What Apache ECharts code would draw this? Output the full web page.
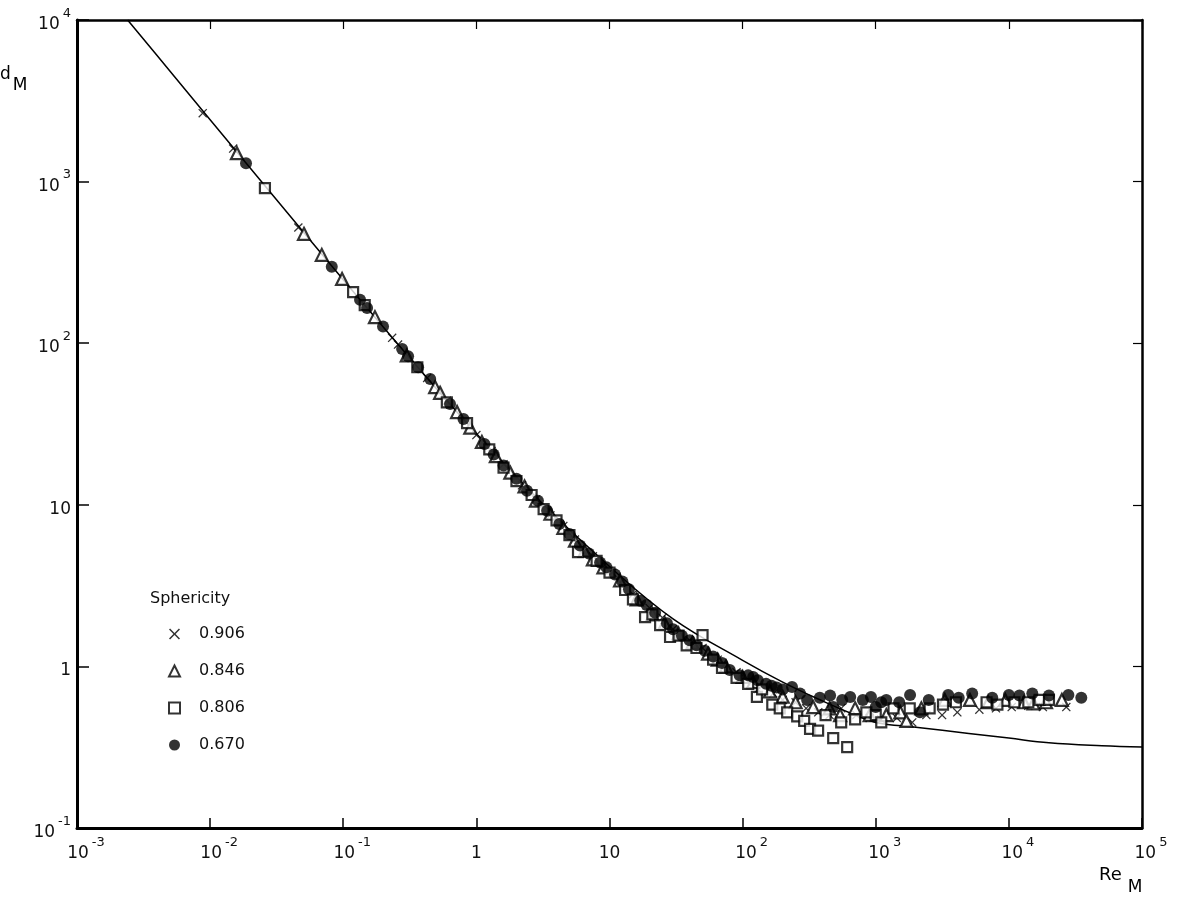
<!DOCTYPE html>
<html>
<head>
<meta charset="utf-8">
<script src="https://cdn.jsdelivr.net/npm/echarts@6/dist/echarts.min.js"></script>
<style>
html,body{margin:0;padding:0;background:#fff;}
#chart{width:1188px;height:899px;}
</style>
</head>
<body>
<div id="chart"></div>
<script>
// ---- data ----
const xTickLabels = ['10^-3','10^-2','10^-1','1','10','10^2','10^3','10^4','10^5'];
const yTickLabels = ['10^-1','1','10','10^2','10^3','10^4'];
const legendTitle = 'Sphericity';
const seriesNames = ['0.906','0.846','0.806','0.670'];

// fitted drag curve (Re_M, d_M)
const curveRe = [0.0024,0.005,0.01,0.03,0.1,0.3,1,3,10,30,100,200,400,700,1000,2000,5000,10000,20000,50000,100000];
const curveCd = [10000,4819,2415,811,247,85.2,27.6,10.55,4.15,1.97,1.09,0.80,0.61,0.50,0.45,0.42,0.385,0.36,0.337,0.323,0.317];

// sphericity 0.906 (x)
const sph906 = [[0.0088,2650],[0.0149,1600],[0.046,520],[0.233,108],[0.258,98],[0.427,61],[0.6,44],[1.0,27],[1.3,21.5],[1.6,17.8],[2.2,13.2],[2.8,10.8],[3.6,8.6],[4.5,7.4],[5.5,6.1],[7.5,4.8],[10.5,3.8],[12,3.3],[15,2.8],[20,2.3],[25,2.0],[30,1.7],[40,1.45],[50,1.3],[65,1.1],[90,0.92],[115,0.78],[130,0.72],[170,0.68],[200,0.62],[250,0.6],[300,0.55],[370,0.52],[450,0.5],[550,0.55],[715,0.5],[900,0.48],[1100,0.47],[1440,0.48],[1880,0.45],[2400,0.5],[3150,0.50],[4100,0.52],[6000,0.54],[8000,0.55],[10500,0.56],[14000,0.57],[18000,0.56],[27000,0.56]];
// sphericity 0.846 (triangle)
const sph846 = [[0.0159,1500],[0.0507,475],[0.069,352],[0.098,250],[0.173,145],[0.3,84],[0.49,53.5],[0.534,49.3],[0.716,37.5],[0.9,30],[1.1,24.5],[1.4,20],[1.8,15.8],[2.3,13],[2.8,10.6],[3.6,8.8],[4.5,7.2],[5.5,6.0],[6.5,5.2],[7.5,4.6],[9,4.1],[12,3.4],[16,2.6],[21,2.1],[26,1.85],[33,1.6],[42,1.4],[55,1.2],[65,1.1],[75,1.0],[100,0.86],[120,0.8],[160,0.7],[200,0.65],[250,0.6],[339,0.56],[450,0.55],[540,0.50],[700,0.55],[900,0.5],[1200,0.5],[1530,0.52],[1700,0.46],[2200,0.55],[3300,0.62],[5100,0.62],[7000,0.6],[9400,0.62],[13000,0.60],[15300,0.59],[19000,0.6],[25000,0.62]];
// sphericity 0.806 (square)
const sph806 = [[0.0258,910],[0.1186,207],[0.145,172],[0.36,71],[0.6,43],[0.851,32],[1.25,22],[1.6,17],[2.0,14.0],[2.6,11.5],[3.2,9.4],[4,8.0],[5,6.5],[5.8,5.1],[8,4.5],[10,3.8],[13.1,2.97],[15,2.6],[18.5,2.02],[21,2.1],[24,1.8],[28.5,1.52],[33,1.55],[38,1.35],[45,1.3],[50,1.56],[60,1.1],[70,0.98],[90,0.85],[110,0.78],[128,0.647],[140,0.72],[167,0.58],[190,0.55],[216,0.52],[257,0.49],[290,0.46],[321,0.41],[369,0.40],[420,0.5],[479,0.36],[550,0.45],[610,0.317],[700,0.47],[850,0.52],[1000,0.5],[1100,0.45],[1360,0.55],[1800,0.55],[2540,0.55],[3200,0.58],[4000,0.60],[6800,0.60],[8200,0.58],[11000,0.6],[14000,0.6],[17000,0.62],[20000,0.62]];
// sphericity 0.670 (filled circle)
const sph670 = [[0.0186,1300],[0.082,297],[0.1337,186],[0.151,165],[0.199,127],[0.277,92],[0.307,83],[0.365,71],[0.45,60],[0.634,42],[0.8,34],[1.15,23.8],[1.35,20.5],[1.6,17.5],[2.0,14.5],[2.4,12.2],[2.9,10.6],[3.4,9.2],[4.2,7.6],[5,6.6],[6,5.6],[7,5.0],[8.5,4.4],[9.5,4.1],[11,3.7],[12.5,3.35],[14,3.0],[17,2.55],[19,2.4],[22,2.15],[27,1.85],[30,1.7],[35,1.55],[40,1.45],[45,1.35],[52,1.25],[60,1.15],[70,1.05],[80,0.95],[95,0.88],[110,0.88],[120,0.86],[130,0.82],[150,0.78],[165,0.76],[180,0.74],[200,0.72],[235,0.746],[270,0.68],[305,0.62],[380,0.64],[454,0.66],[479,0.56],[560,0.62],[643,0.647],[800,0.62],[920,0.647],[1000,0.56],[1100,0.6],[1200,0.62],[1500,0.6],[1811,0.665],[2150,0.52],[2500,0.62],[3500,0.665],[4200,0.64],[5300,0.68],[7500,0.64],[10000,0.665],[12000,0.66],[15000,0.68],[20000,0.66],[28000,0.665],[35000,0.64]];

// ---- chart ----
const FONT = 'DejaVu Sans';
const chart = echarts.init(document.getElementById('chart'), null, {renderer:'canvas'});

function labelFor(list, minExp, value, padLeft){
  const e = Math.round(Math.log10(value));
  const s = list[e - minExp];
  if (s === undefined) return '';
  const parts = s.split('^');
  if (parts.length === 1) return '{c|' + parts[0] + '}';
  return (padLeft ? '{bp|' : '{b|') + parts[0] + '}{s|' + parts[1] + '}';
}
const rich = {
  b:{fontSize:17,fontFamily:FONT,color:'#111',lineHeight:26,verticalAlign:'bottom'},
  bp:{fontSize:17,fontFamily:FONT,color:'#111',lineHeight:26,verticalAlign:'bottom',padding:[0,0,0,18]},
  c:{fontSize:17,fontFamily:FONT,color:'#111',lineHeight:26,verticalAlign:'bottom'},
  s:{fontSize:13,fontFamily:FONT,color:'#111',lineHeight:13,verticalAlign:'top',padding:[0,0,0,3]}
};
const crossPath = 'path://M0,1L1,0L5,4L9,0L10,1L6,5L10,9L9,10L5,6L1,10L0,9L4,5Z';

const option = {
  backgroundColor:'#fff',
  animation:false,
  grid:{left:77,right:46,top:20,bottom:71},
  legend:{
    orient:'vertical', left:163, top:621, itemWidth:11, itemHeight:11, itemGap:21,
    data:seriesNames,
    textStyle:{fontSize:16,fontFamily:FONT,color:'#111',padding:[0,0,0,14]}
  },
  graphic:[
    {type:'text', left:150, top:591, style:{text:legendTitle, fontSize:16, fontFamily:FONT, fill:'#111'}},
    {type:'text', left:0, top:66, style:{text:'{a|d}{m|M}', rich:{a:{fontSize:17,fontFamily:FONT,color:'#111',verticalAlign:'top',lineHeight:28},m:{fontSize:17,fontFamily:FONT,color:'#111',verticalAlign:'bottom',lineHeight:28,padding:[0,0,0,2]}}}},
    {type:'text', left:1099, top:866, style:{text:'{a|Re}{m|M}', rich:{a:{fontSize:18,fontFamily:FONT,color:'#111',verticalAlign:'top',lineHeight:30},m:{fontSize:17,fontFamily:FONT,color:'#111',verticalAlign:'bottom',lineHeight:30,padding:[0,0,0,6]}}}}
  ],
  xAxis:[
    {type:'log', logBase:10, min:0.001, max:100000, splitNumber:8, position:'bottom',
     axisLine:{lineStyle:{color:'#000',width:3}},
     axisTick:{inside:true,length:10,lineStyle:{color:'#000',width:1.5}},
     splitLine:{show:false},
     axisLabel:{margin:8,color:'#111',formatter:v=>labelFor(xTickLabels,-3,v,true),rich:rich}},
    {type:'log', logBase:10, min:0.001, max:100000, splitNumber:8, position:'top',
     axisLine:{lineStyle:{color:'#000',width:2.5}},
     axisTick:{inside:true,length:9,lineStyle:{color:'#000',width:1.2}},
     splitLine:{show:false}, axisLabel:{show:false}}
  ],
  yAxis:[
    {type:'log', logBase:10, min:0.1, max:10000, splitNumber:5, position:'left',
     axisLine:{lineStyle:{color:'#000',width:3}},
     axisTick:{inside:true,length:12,lineStyle:{color:'#000',width:1.5}},
     splitLine:{show:false},
     axisLabel:{margin:6,color:'#111',formatter:v=>labelFor(yTickLabels,-1,v,false),rich:rich}},
    {type:'log', logBase:10, min:0.1, max:10000, splitNumber:5, position:'right',
     axisLine:{lineStyle:{color:'#000',width:2.5}},
     axisTick:{inside:true,length:9,lineStyle:{color:'#000',width:1.2}},
     splitLine:{show:false}, axisLabel:{show:false}}
  ],
  series:[
    {type:'line', name:'curve', data:curveRe.map((r,i)=>[r,curveCd[i]]), smooth:0.4, showSymbol:false,
     lineStyle:{color:'#000',width:1.5}, z:1, silent:true},
    {type:'scatter', name:seriesNames[0], data:sph906, symbol:crossPath, symbolSize:9,
     itemStyle:{color:'#000'}, z:3},
    {type:'scatter', name:seriesNames[1], data:sph846, symbol:'triangle', symbolSize:12,
     itemStyle:{color:'#fff',borderColor:'#000',borderWidth:2.2}, z:3},
    {type:'scatter', name:seriesNames[2], data:sph806, symbol:'rect', symbolSize:10,
     itemStyle:{color:'#fff',borderColor:'#000',borderWidth:2.2}, z:3},
    {type:'scatter', name:seriesNames[3], data:sph670, symbol:'circle', symbolSize:12,
     itemStyle:{color:'#000'}, z:4}
  ]
};
chart.setOption(option);
</script>
</body>
</html>
